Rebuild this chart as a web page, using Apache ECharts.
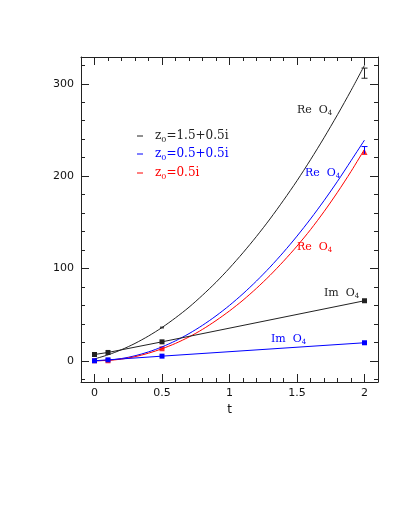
<!DOCTYPE html>
<html>
<head>
<meta charset="utf-8">
<script src="https://cdn.jsdelivr.net/npm/echarts@6/dist/echarts.min.js"></script>
<style>
  html, body { margin: 0; padding: 0; background: #fff; }
  #chart { width: 399px; height: 516px; }
</style>
</head>
<body>
<div id="chart"></div>
<script>
// t values for the smooth Re O4 curves
var tVals = [0, 0.1, 0.2, 0.3, 0.4, 0.5, 0.6, 0.7, 0.8, 0.9, 1.0,
             1.1, 1.2, 1.3, 1.4, 1.5, 1.6, 1.7, 1.8, 1.9, 2.0];
// Re O4, z0=1.5+0.5i (black)
var reBlack = [2, 6.4, 12, 18.8, 26.8, 36, 46.5, 58, 71, 85, 100.4,
               117, 134.7, 153.6, 173.8, 195, 217.7, 241.5, 266.5, 292.7, 320];
// Re O4, z0=0.5+0.5i (blue)
var reBlue = [0, 0.6, 2.4, 5.4, 9.6, 15, 21.6, 29.4, 38.4, 48.6, 60,
              72.6, 86.4, 101.4, 117.6, 135, 153.6, 173.4, 194.4, 216.6, 239];
// Re O4, z0=0.5i (red)
var reRed = [0, 0.4, 1.8, 4.4, 8.2, 13, 18.8, 25.8, 34, 43.5, 54,
             65.6, 78.5, 92.5, 107.8, 124.2, 142, 161.5, 182.5, 205, 229];

// Im O4 points
var imT = [0, 0.1, 0.5, 2];
var imBlack = [6.8, 9, 20.5, 65];
var imBlue = [0, 1, 5, 19.5];

// red point markers
var redPtT = [0, 0.1, 0.5];
var redPtV = [0, 0, 13];
var redTri = [[2, 226]];
var blackPt = [[0.5, 36]];

// error bars [t, low, high]
var errBlack = [[2, 306, 317]];
var errBlue = [[2, 224, 232]];

function pairs(xs, ys) {
    var out = [];
    for (var i = 0; i < xs.length; i++) out.push([xs[i], ys[i]]);
    return out;
}

var AX = '#222';
var BLK = '#222', BLU = '#0000ff', RED = '#ff0000';

// axes: for each side a "major" axis (long ticks, labels) and a "minor" one (short ticks)
function xAx(pos, major) {
    return {
        type: 'value', position: pos, min: -0.1, max: 2.1,
        splitNumber: major ? 4 : 22,
        axisLine: { show: major, onZero: false, lineStyle: { color: AX, width: 1 } },
        axisTick: { show: true, inside: true, length: major ? 8 : 4, lineStyle: { color: AX } },
        axisLabel: {
            show: major && pos === 'bottom', margin: 6, showMinLabel: false, showMaxLabel: false,
            fontFamily: 'DejaVu Sans', fontSize: 11, color: '#111'
        },
        splitLine: { show: false },
        name: (major && pos === 'bottom') ? 't' : '',
        nameLocation: 'middle', nameGap: 19,
        nameTextStyle: { fontFamily: 'DejaVu Sans', fontSize: 12, color: '#111' }
    };
}
function yAx(pos, major) {
    return {
        type: 'value', position: pos, min: -23, max: 329,
        splitNumber: major ? 4 : 17,
        axisLine: { show: major, onZero: false, lineStyle: { color: AX, width: 1 } },
        axisTick: { show: true, inside: true, length: major ? 8 : 4, lineStyle: { color: AX } },
        axisLabel: {
            show: major && pos === 'left', margin: 7, showMinLabel: false, showMaxLabel: false,
            fontFamily: 'DejaVu Sans', fontSize: 11, color: '#111'
        },
        splitLine: { show: false }
    };
}

var serifLbl = function (txt, color) {
    return {
        text: txt,
        fill: color,
        font: '11px "DejaVu Serif"',
        rich: {
            m: { fontFamily: 'DejaVu Serif', fontSize: 11, lineHeight: 14, fill: color, color: color },
            s: { fontFamily: 'DejaVu Serif', fontSize: 7, lineHeight: 8, verticalAlign: 'bottom', fill: color, color: color }
        },
        verticalAlign: 'middle'
    };
};

function ann(x, y, main, sub, color) {
    var st = serifLbl('{m|' + main + '}{s|' + sub + '}', color);
    st.x = x; st.y = y;
    return { type: 'text', style: st, z: 100 };
}
function legEntry(y, txt, color) {
    var st = {
        text: '{m|z}{s|0}{m|' + txt + '}', x: 155, y: y, verticalAlign: 'middle', fill: color,
        rich: {
            m: { fontFamily: 'DejaVu Serif', fontSize: 12, lineHeight: 15, fill: color },
            s: { fontFamily: 'DejaVu Serif', fontSize: 8, lineHeight: 9, verticalAlign: 'bottom', fill: color }
        }
    };
    return [
        { type: 'line', shape: { x1: 137, y1: y, x2: 143, y2: y }, style: { stroke: color, lineWidth: 1 }, z: 100 },
        { type: 'text', style: st, z: 100 }
    ];
}

function errRender(color, capTop, capBottom) {
    return function (params, api) {
        var p1 = api.coord([api.value(0), api.value(1)]);
        var p2 = api.coord([api.value(0), api.value(2)]);
        var w = 3;
        var kids = [{ type: 'line', shape: { x1: p1[0], y1: p1[1], x2: p2[0], y2: p2[1] }, style: { stroke: color, lineWidth: 1 } }];
        if (capBottom) kids.push({ type: 'line', shape: { x1: p1[0] - w, y1: p1[1], x2: p1[0] + w, y2: p1[1] }, style: { stroke: color, lineWidth: 1 } });
        if (capTop) kids.push({ type: 'line', shape: { x1: p2[0] - w, y1: p2[1], x2: p2[0] + w, y2: p2[1] }, style: { stroke: color, lineWidth: 1 } });
        return { type: 'group', children: kids };
    };
}

var myChart = echarts.init(document.getElementById('chart'), null, { renderer: 'canvas' });

var option = {
    animation: false,
    backgroundColor: '#fff',
    grid: { left: 81, right: 21, top: 57, bottom: 134, containLabel: false },
    xAxis: [xAx('bottom', true), xAx('bottom', false), xAx('top', true), xAx('top', false)],
    yAxis: [yAx('left', true), yAx('left', false), yAx('right', true), yAx('right', false)],
    series: [
        { type: 'line', data: pairs(tVals, reBlack), smooth: 0.3, showSymbol: false,
          lineStyle: { color: BLK, width: 1 }, itemStyle: { color: BLK } },
        { type: 'line', data: pairs(tVals, reBlue), smooth: 0.3, showSymbol: false,
          lineStyle: { color: BLU, width: 1 }, itemStyle: { color: BLU } },
        { type: 'line', data: pairs(tVals, reRed), smooth: 0.3, showSymbol: false,
          lineStyle: { color: RED, width: 1 }, itemStyle: { color: RED } },
        { type: 'line', data: pairs(imT, imBlack), symbol: 'rect', symbolSize: 5, showSymbol: true,
          lineStyle: { color: BLK, width: 1 }, itemStyle: { color: BLK } },
        { type: 'line', data: pairs(imT, imBlue), symbol: 'rect', symbolSize: 5, showSymbol: true,
          lineStyle: { color: BLU, width: 1 }, itemStyle: { color: BLU } },
        { type: 'scatter', data: pairs(redPtT, redPtV), symbol: 'rect', symbolSize: 5,
          itemStyle: { color: RED } },
        { type: 'scatter', data: redTri, symbol: 'triangle', symbolSize: 6, itemStyle: { color: RED } },
        { type: 'scatter', data: blackPt, symbol: 'rect', symbolSize: [4, 2], itemStyle: { color: BLK } },
        { type: 'custom', data: errBlack, renderItem: errRender(BLK, true, true), z: 10 },
        { type: 'custom', data: errBlue, renderItem: errRender(BLU, true, false), z: 10 }
    ],
    graphic: [].concat(
        legEntry(136, '=1.5+0.5i', BLK),
        legEntry(154, '=0.5+0.5i', BLU),
        legEntry(173, '=0.5i', RED),
        [
            ann(297, 110, 'Re  O', '4', BLK),
            ann(305, 173, 'Re  O', '4', BLU),
            ann(297, 247, 'Re  O', '4', RED),
            ann(324, 293, 'Im  O', '4', BLK),
            ann(271, 339, 'Im  O', '4', BLU)
        ]
    )
};

myChart.setOption(option);
</script>
</body>
</html>
